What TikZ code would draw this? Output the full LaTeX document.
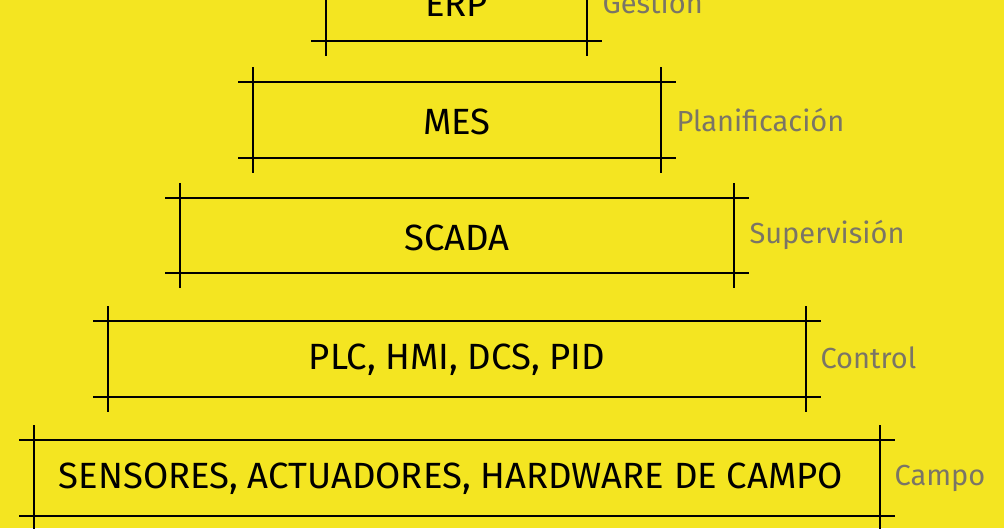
\documentclass[tikz,border=0pt]{standalone}
\usepackage{fontspec}
\setmainfont{Fira Sans}
\definecolor{bg}{HTML}{F4E521}
\definecolor{lab}{HTML}{7A7566}
\begin{document}
\begin{tikzpicture}[x=1pt,y=-1pt,
  ln/.style={line width=1.4pt,black},
  main/.style={font=\fontsize{36.5}{40}\selectfont,text=black,anchor=center},
  side/.style={font=\fontsize{29}{32}\selectfont,text=lab,anchor=west}]
\fill[bg] (0,0) rectangle (1004,528);
\useasboundingbox (0,0) rectangle (1004,528);
\begin{scope}
\clip (0,0) rectangle (1004,528);
\foreach \l/\r/\t/\b in {326/587/-35/41, 253/661/82/158, 180/734/198/273, 108/806/321/397, 34/880/440/516}{
  \draw[ln] (\l-15,\t) -- (\r+15,\t);
  \draw[ln] (\l-15,\b) -- (\r+15,\b);
  \draw[ln] (\l,\t-15) -- (\l,\b+15);
  \draw[ln] (\r,\t-15) -- (\r,\b+15);
}
\node[main] (erp) at (456.5,4) {ERP};
\node[main] (mes) at (457,122) {MES};
\node[main] (scada) at (457,238) {SCADA};
\node[main] (plc) at (457,360) {PLC, HMI, DCS, PID};
\node[main] (sen) at (451,479) {SENSORES, ACTUADORES, HARDWARE DE CAMPO};
\node[side] (g) at (599,2) {Gestión};
\node[side] (p) at (673,120) {Planificación};
\node[side] (s) at (746,235) {Supervisión};
\node[side] (c) at (817,358) {Control};
\node[side] (ca) at (891,478) {Campo};
\end{scope}
\end{tikzpicture}
\end{document}
